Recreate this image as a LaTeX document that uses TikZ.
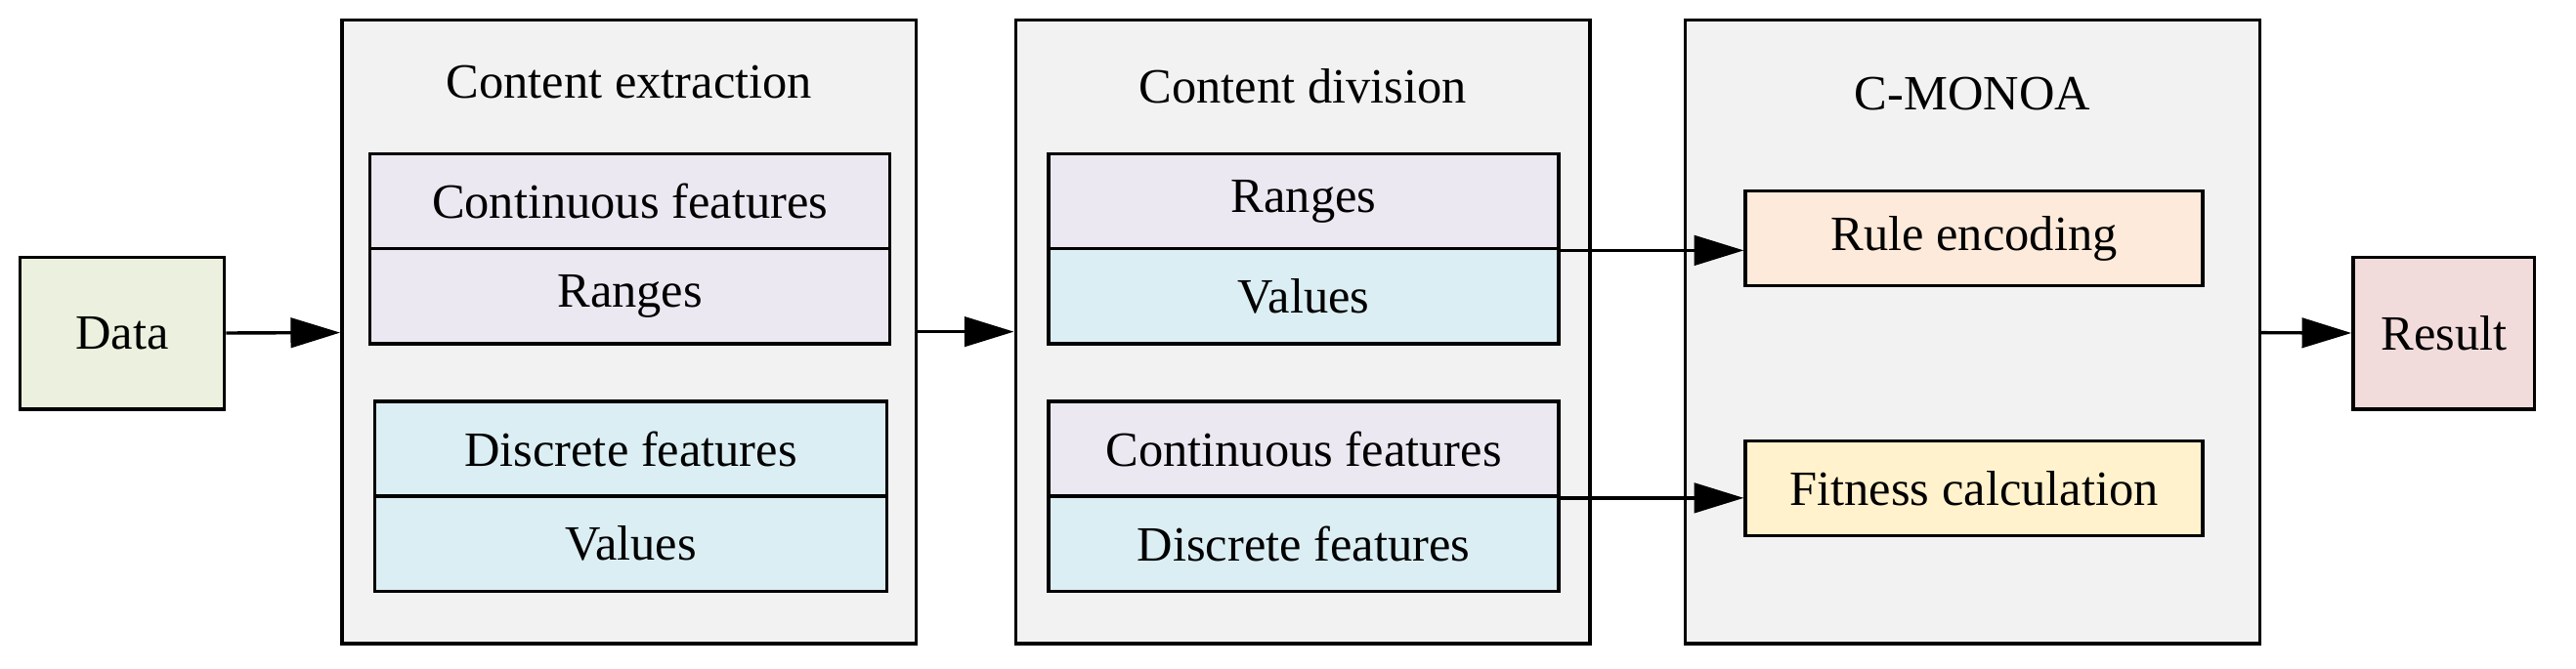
\documentclass[tikz,border=0pt]{standalone}
\usepackage{fontspec}
\setmainfont{Liberation Serif}
\usetikzlibrary{arrows.meta}
\definecolor{datafill}{HTML}{EBF1DE}
\definecolor{panelfill}{HTML}{F2F2F2}
\definecolor{contfill}{HTML}{EBE8F1}
\definecolor{discfill}{HTML}{DBEEF3}
\definecolor{rulefill}{HTML}{FDEADA}
\definecolor{fitfill}{HTML}{FFF2CC}
\definecolor{resfill}{HTML}{F2DCDB}
\begin{document}
\begin{tikzpicture}[x=0.02cm, y=-0.02cm,
    font=\fontsize{17}{20}\selectfont,
    every node/.style={line width=0.04cm, inner sep=0pt},
    panel/.style={draw, fill=panelfill, minimum width=6.96cm, minimum height=7.56cm},
    cell/.style={draw, minimum height=1.15cm},
    arr/.style={line width=0.04cm, -{Triangle[length=0.6cm, width=0.36cm]}}]
    \useasboundingbox (0,0) rectangle (1560,405);

    % Input
    \node[draw, fill=datafill, minimum width=2.48cm, minimum height=1.84cm] (data) at (74,202) {Data};

    % Content extraction
    \node[panel] (extr) at (381,201) {};
    \node (extrtitle) at (381,50) {Content extraction};
    \node[cell, fill=contfill, minimum width=6.3cm] (ecf) at (381.5,122) {Continuous features};
    \node[cell, fill=contfill, minimum width=6.3cm] (erng) at (381.5,179.5) {Ranges};
    \node[cell, fill=discfill, minimum width=6.2cm] (edf) at (382,272) {Discrete features};
    \node[cell, fill=discfill, minimum width=6.2cm] (eval) at (382,329.5) {Values};

    % Content division
    \node[panel] (divi) at (789,201) {};
    \node (dividtitle) at (789,52) {Content division};
    \node[cell, fill=contfill, minimum width=6.18cm] (drng) at (789.5,122) {Ranges};
    \node[cell, fill=discfill, minimum width=6.18cm] (dval) at (789.5,179.5) {Values};
    \node[cell, fill=contfill, minimum width=6.18cm] (dcf) at (789.5,272) {Continuous features};
    \node[cell, fill=discfill, minimum width=6.18cm] (ddf) at (789.5,329.5) {Discrete features};

    % C-MONOA
    \node[panel] (mono) at (1194.5,201) {};
    \node (monotitle) at (1194.5,57) {C-MONOA};
    \node[cell, fill=rulefill, minimum width=5.54cm] (rule) at (1195.5,144.5) {Rule encoding};
    \node[cell, fill=fitfill, minimum width=5.54cm] (fit) at (1195.5,296) {Fitness calculation};

    % Output
    \node[draw, fill=resfill, minimum width=2.2cm, minimum height=1.84cm] (res) at (1480,202) {Result};

    % Arrows
    \draw[arr] (data) -- (extr);
    \draw[arr] (extr) -- (divi);
    \draw[arr] (drng.south east) -- (drng.south east -| rule.west);
    \draw[arr] (dcf.south east) -- (dcf.south east -| fit.west);
    \draw[arr] (mono) -- (res);
\end{tikzpicture}
\end{document}
